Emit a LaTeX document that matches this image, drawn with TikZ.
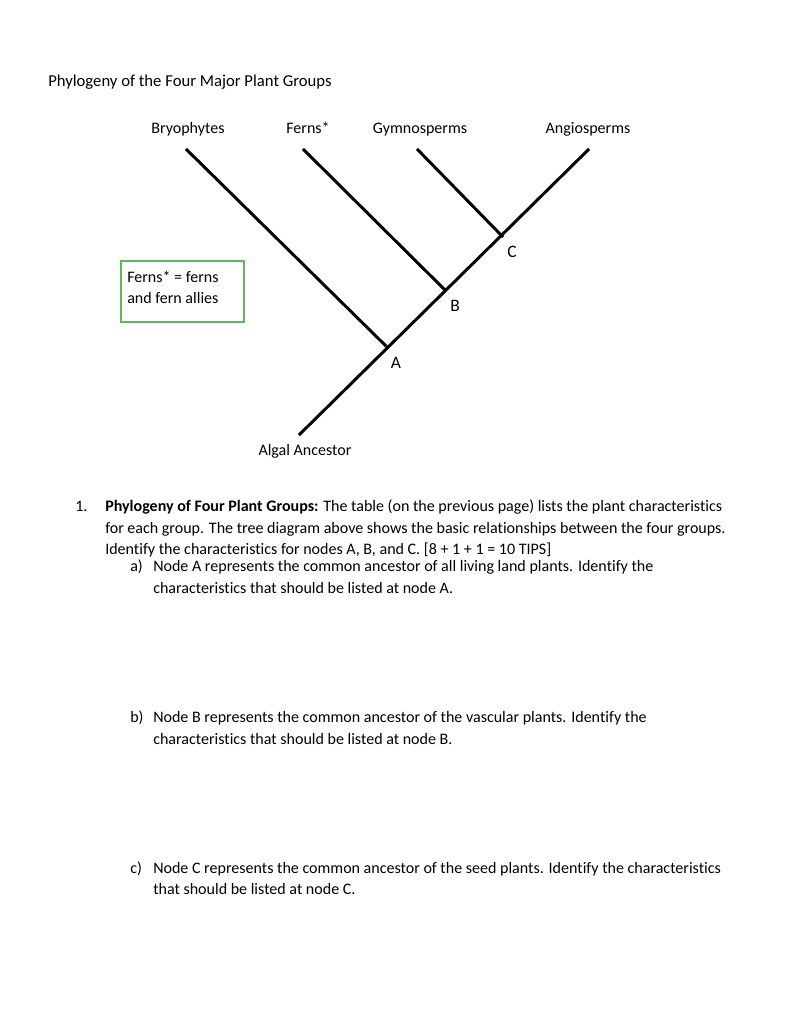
\documentclass[tikz,border=0pt]{standalone}
\usepackage{fontspec}
\setmainfont{Carlito}[Ligatures=NoCommon]
\usetikzlibrary{positioning}
\definecolor{keygreen}{RGB}{96,184,92}

\begin{document}
\begin{tikzpicture}[
	  x=0.7737pt,y=-0.7737pt,
	  every node/.style={align=left,text=black,inner sep=0pt,font=\fontsize{12.4}{16.6}\selectfont},
	  taxon/.style={anchor=base},
	  line/.style={anchor=base west},
	  nodelabel/.style={anchor=base,font=\fontsize{13.5}{15}\selectfont},
	  branch/.style={line width=2.3pt,line cap=rect},
	  keybox/.style={draw=keygreen,line width=1.6pt,minimum width=123*0.7737pt,minimum height=61*0.7737pt}]

	  \useasboundingbox (0,0) rectangle (791,1024);

	  % Title
	  \node[line,font=\fontsize{12.9}{16.6}\selectfont] (title) at (48,86) {Phylogeny of the Four Major Plant Groups};

	  % Tips, junctions and root of the tree
	  \node[taxon] (bryophytes) at (188,133) {Bryophytes};
	  \node[taxon] (ferns) at (308,133) {Ferns*};
	  \node[taxon] (gymnosperms) at (420,133) {Gymnosperms};
	  \node[taxon] (angiosperms) at (588,133) {Angiosperms};
	  \coordinate (bryotip) at (187,150);
	  \coordinate (ferntip) at (304,150);
	  \coordinate (gymnotip) at (418,150);
	  \coordinate (angiotip) at (588,150);
	  \coordinate (nodeA) at (387,347);
	  \coordinate (nodeB) at (445,290);
	  \coordinate (nodeC) at (502,236);
	  \coordinate (root) at (300,434);
	  \node[nodelabel] (labelA) at (396,368) {A};
	  \node[nodelabel] (labelB) at (455,311) {B};
	  \node[nodelabel] (labelC) at (512,257) {C};
	  \node[taxon] (algal) at (305,455) {Algal Ancestor};

	  \draw[branch] (root) -- (angiotip);
	  \draw[branch] (bryotip) -- (nodeA);
	  \draw[branch] (ferntip) -- (nodeB);
	  \draw[branch] (gymnotip) -- (nodeC);

	  % Key for the fern group
	  \node[keybox,anchor=north west] (key) at (120,260) {};
	  \node[line] (keya) at (127,282) {Ferns* = ferns};
	  \node[line] (keyb) at (127,303) {and fern allies};

	  % Question text
	  \node[line] (qnum) at (75,511) {1.};
	  \node[line] (q1) at (105,511) {\textbf{Phylogeny of Four Plant Groups:} The table (on the previous page) lists the plant characteristics};
	  \node[line] (q2) at (105,533) {for each group. The tree diagram above shows the basic relationships between the four groups.};
	  \node[line] (q3) at (105,554) {Identify the characteristics for nodes A, B, and C. [8 + 1 + 1 = 10 TIPS]};
	  \node[line] (amark) at (130,571) {a)};
	  \node[line] (a1) at (153,571) {Node A represents the common ancestor of all living land plants. Identify the};
	  \node[line] (a2) at (153,593) {characteristics that should be listed at node A.};
	  \node[line] (bmark) at (130,722) {b)};
	  \node[line] (b1) at (153,722) {Node B represents the common ancestor of the vascular plants. Identify the};
	  \node[line] (b2) at (153,744) {characteristics that should be listed at node B.};
	  \node[line] (cmark) at (130,873) {c)};
	  \node[line] (c1) at (153,873) {Node C represents the common ancestor of the seed plants. Identify the characteristics};
	  \node[line] (c2) at (153,894) {that should be listed at node C.};
\end{tikzpicture}
\end{document}
